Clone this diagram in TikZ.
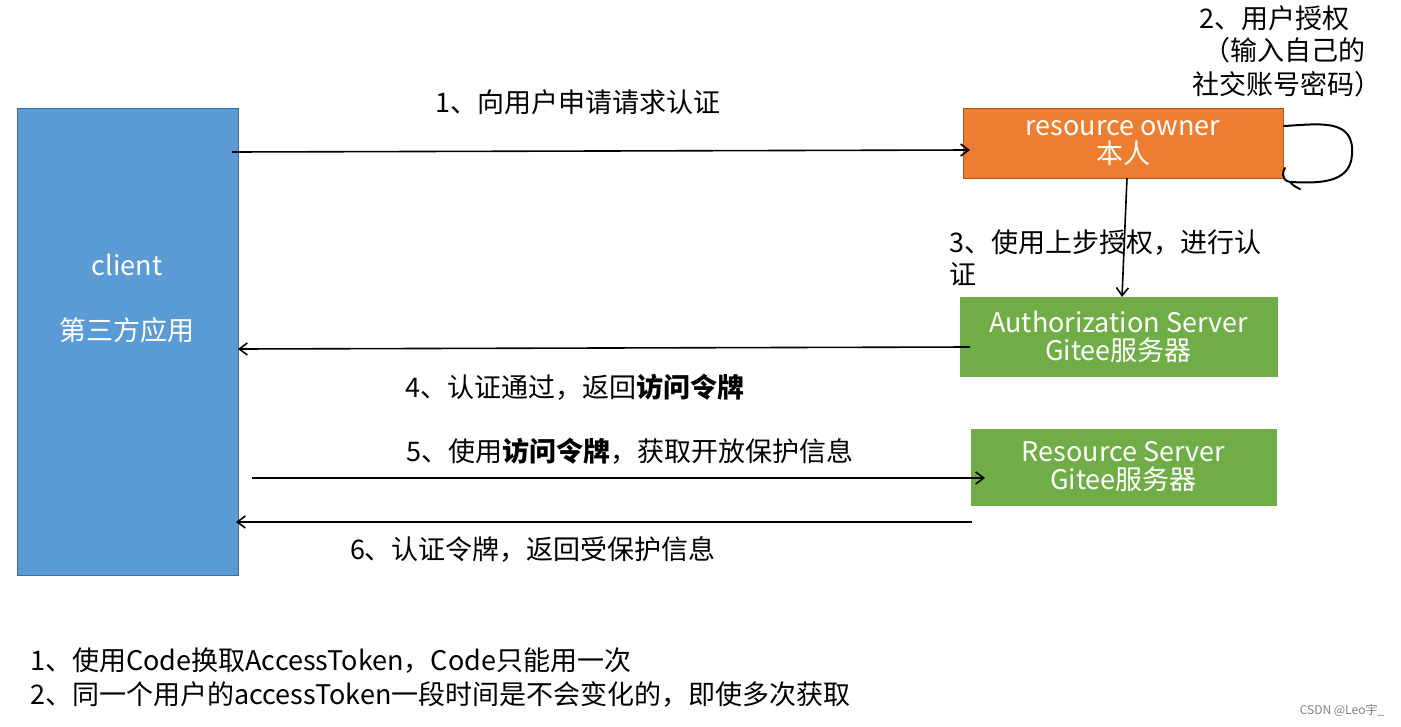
\documentclass[tikz,border=0pt]{standalone}
\usepackage{fontspec}
\setmainfont{Noto Sans CJK SC}
\usetikzlibrary{arrows.meta}
\begin{document}
\begin{tikzpicture}[x=1pt,y=-1pt,
  box/.style={draw=#1!70!black,line width=1pt,inner sep=0pt,align=center,text=white,font=\fontsize{27}{30}\selectfont},
  lbl/.style={font=\fontsize{27}{32}\selectfont,inner sep=0pt},
  arr/.style={-{Straight Barb[length=8pt,width=12pt]},line width=1.6pt}]
\useasboundingbox (0,0) rectangle (1401,726);
\definecolor{cb}{HTML}{5B9BD5}\definecolor{co}{HTML}{ED7D31}\definecolor{cg}{HTML}{70AD47}
\node[box=cb,fill=cb,minimum width=221pt,minimum height=467pt] (client) at (127.5,341.5) {};
\node[text=white,lbl] (c1) at (127,265) {client};
\node[text=white,lbl] (c2) at (127,330) {第三方应用};
\node[box=co,fill=co,minimum width=320pt,minimum height=70pt] (ro) at (1123,143) {resource owner\\[-2pt]本人};
\node[box=cg,fill=cg,draw=cg,minimum width=317pt,minimum height=79pt] (as) at (1118.5,336.5) {Authorization Server\\[-2pt]Gitee服务器};
\node[box=cg,fill=cg,draw=cg,minimum width=305pt,minimum height=76pt] (rs) at (1123.5,467) {Resource Server\\[-2pt]Gitee服务器};
\coordinate (a1s) at (232,152); \coordinate (a1e) at (970,150);
\draw[arr] (a1s) -- (a1e);
\node[lbl] (l1) at (578,102) {1、向用户申请请求认证};
\coordinate (a3s) at (1127,178); \coordinate (a3e) at (1122,297);
\draw[arr] (a3s) -- (a3e);
\node[lbl,anchor=north west,align=left] (l3) at (949,230) {3、使用上步授权，进行认\\证};
\coordinate (a4s) at (970,347); \coordinate (a4e) at (238,349);
\draw[arr] (a4s) -- (a4e);
\node[lbl] (l4) at (575,387) {4、认证通过，返回\textbf{访问令牌}};
\coordinate (a5s) at (252,478); \coordinate (a5e) at (985,478);
\draw[arr] (a5s) -- (a5e);
\node[lbl] (l5) at (630,451) {5、使用\textbf{访问令牌}，获取开放保护信息};
\coordinate (a6s) at (972,522); \coordinate (a6e) at (236,522);
\draw[arr] (a6s) -- (a6e);
\node[lbl] (l6) at (533,549) {6、认证令牌，返回受保护信息};
\coordinate (lp1) at (1284,126);
\coordinate (lp2) at (1285,168);
\draw[line width=2pt,line cap=round] (lp1) .. controls (1320,124) and (1355,118) .. (1352,155)
  .. controls (1350,185) and (1315,183) .. (1290,182)
  .. controls (1280,180) and (1283,170) .. (lp2)
  (1290,182) .. controls (1293,186) and (1298,188) .. (1300,189);
\node[lbl] (l2a) at (1274,18) {2、用户授权};
\node[lbl] (l2b) at (1284,50) {（输入自己的};
\node[lbl] (l2c) at (1287,84) {社交账号密码）};
\node[lbl,anchor=west] (n1) at (30,661) {1、使用Code换取AccessToken，Code只能用一次};
\node[lbl,anchor=west] (n2) at (30,694) {2、同一个用户的accessToken一段时间是不会变化的，即使多次获取};
\node[font=\fontsize{12}{14}\selectfont,text=gray,inner sep=0pt] (wm) at (1342,711) {CSDN @Leo宇\_};
\end{tikzpicture}
\end{document}
